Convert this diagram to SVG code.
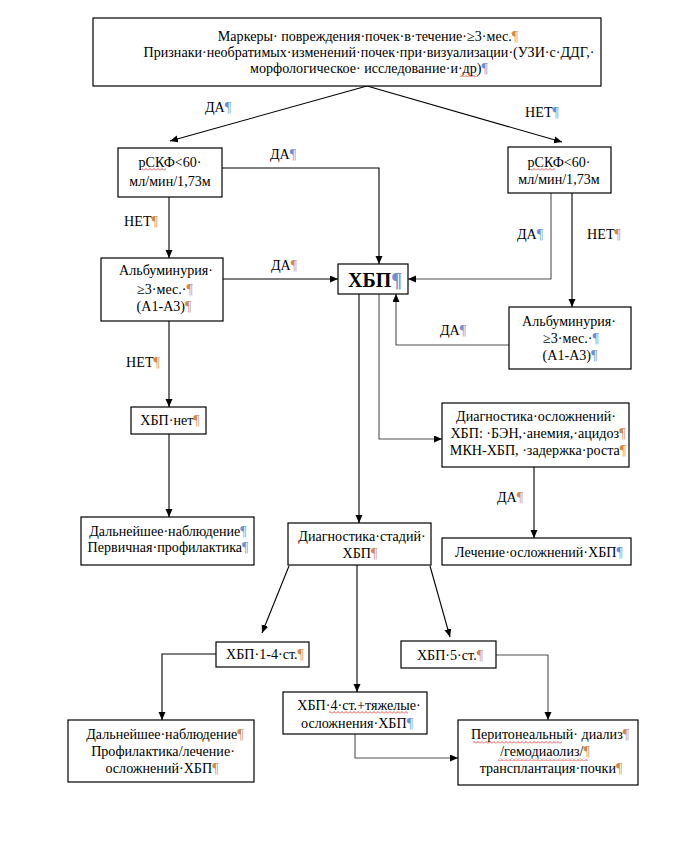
<svg xmlns="http://www.w3.org/2000/svg" width="689" height="857" viewBox="0 0 689 857">
<style>
  .box{fill:#fff;stroke:#000;stroke-width:1.2}
  .t{font-family:"Liberation Serif","Times New Roman","DejaVu Serif",serif;font-size:14.1px;fill:#000;text-anchor:middle}
  .big{font-size:20px;font-weight:bold}
  .pb{fill:#6f8fd0}
  .po{fill:#d08a50}
  .c{fill:none;stroke:#000;stroke-width:1.1}
  .g{stroke:#505050}
  .wv{fill:url(#wavy)}
</style>
<defs>
  <marker id="ah" markerUnits="userSpaceOnUse" markerWidth="8" markerHeight="8" refX="8" refY="3.5" orient="auto">
    <path d="M0,0 L8,3.5 L0,7 z" fill="#000"/>
  </marker>
  <pattern id="wavy" width="4" height="3" patternUnits="userSpaceOnUse">
    <polyline points="0,2.5 2,0.5 4,2.5" fill="none" stroke="#e02020" stroke-width="0.8"/>
  </pattern>
</defs>
<rect width="689" height="857" fill="#fff"/>

<g id="connectors">
  <line class="c" x1="367" y1="86" x2="170" y2="141" marker-end="url(#ah)"/>
  <line class="c" x1="367" y1="86" x2="562" y2="142" marker-end="url(#ah)"/>
  <polyline class="c" points="222,168 379,168 379,264" marker-end="url(#ah)"/>
  <line class="c" x1="169" y1="197" x2="169" y2="258" marker-end="url(#ah)"/>
  <line class="c" x1="223" y1="279" x2="338" y2="279" marker-end="url(#ah)"/>
  <polyline class="c g" points="551,193 551,279 408,279" marker-end="url(#ah)"/>
  <line class="c" x1="572" y1="193" x2="572" y2="307" marker-end="url(#ah)"/>
  <polyline class="c g" points="509,345 396,345 396,294" marker-end="url(#ah)"/>
  <line class="c" x1="169" y1="321" x2="169" y2="407" marker-end="url(#ah)"/>
  <line class="c" x1="169" y1="434" x2="169" y2="517" marker-end="url(#ah)"/>
  <line class="c" x1="359" y1="294" x2="359" y2="523" marker-end="url(#ah)"/>
  <polyline class="c g" points="379,294 379,439 442,439" marker-end="url(#ah)"/>
  <line class="c" x1="534" y1="467" x2="534" y2="538" marker-end="url(#ah)"/>
  <line class="c" x1="289" y1="566" x2="262" y2="633" marker-end="url(#ah)"/>
  <line class="c" x1="357" y1="565" x2="357" y2="692" marker-end="url(#ah)"/>
  <line class="c" x1="430" y1="566" x2="450" y2="637" marker-end="url(#ah)"/>
  <polyline class="c" points="216,654 162,654 162,720" marker-end="url(#ah)"/>
  <polyline class="c g" points="496,655 548,655 548,720" marker-end="url(#ah)"/>
  <polyline class="c g" points="355,734 355,758 458,758" marker-end="url(#ah)"/>
</g>

<g id="labels">
  <text class="t" x="218" y="112">ДА<tspan class="pb">¶</tspan></text>
  <text class="t" x="542" y="117">НЕТ<tspan class="pb">¶</tspan></text>
  <text class="t" x="283" y="159">ДА<tspan class="pb">¶</tspan></text>
  <text class="t" x="141" y="226">НЕТ<tspan class="po">¶</tspan></text>
  <text class="t" x="284" y="270">ДА<tspan class="po">¶</tspan></text>
  <text class="t" x="530" y="239">ДА<tspan class="pb">¶</tspan></text>
  <text class="t" x="604" y="239">НЕТ<tspan class="po">¶</tspan></text>
  <text class="t" x="453" y="335">ДА<tspan class="pb">¶</tspan></text>
  <text class="t" x="143" y="367">НЕТ<tspan class="po">¶</tspan></text>
  <text class="t" x="510" y="502">ДА<tspan class="po">¶</tspan></text>
</g>

<g id="n-markers">
  <rect class="box" x="93" y="18" width="508" height="68"/>
  <text class="t" x="368" y="41">Маркеры· повреждения·почек·в·течение·≥3·мес.<tspan class="po">¶</tspan></text>
  <text class="t" x="369" y="57">Признаки·необратимых·изменений·почек·при·визуализации·(УЗИ·с·ДДГ,·</text>
  <text class="t" x="369" y="73">морфологическое· исследование·и·др)<tspan class="pb">¶</tspan></text>
  <rect class="wv" x="460" y="74" width="18" height="3"/>
</g>

<g id="n-gfr-left">
  <rect class="box" x="118" y="148" width="104" height="49"/>
  <text class="t" x="170" y="167">рСКФ&lt;60·</text>
  <text class="t" x="170" y="186">мл/мин/1,73м</text>
  <rect class="wv" x="142" y="168" width="24" height="3"/>
</g>

<g id="n-gfr-right">
  <rect class="box" x="508" y="147" width="103" height="46"/>
  <text class="t" x="559" y="167">рСКФ&lt;60·</text>
  <text class="t" x="559" y="184">мл/мин/1,73м</text>
  <rect class="wv" x="531" y="168" width="24" height="3"/>
</g>

<g id="n-alb-left">
  <rect class="box" x="101" y="258" width="122" height="63"/>
  <text class="t" x="166" y="275">Альбуминурия·</text>
  <text class="t" x="165" y="294">≥3·мес.·<tspan class="po">¶</tspan></text>
  <text class="t" x="164" y="311">(А1-А3)<tspan class="po">¶</tspan></text>
</g>

<g id="n-ckd">
  <rect class="box" x="338" y="264" width="70" height="30"/>
  <text class="t big" x="375" y="287">ХБП<tspan class="pb">¶</tspan></text>
</g>

<g id="n-alb-right">
  <rect class="box" x="509" y="307" width="122" height="62"/>
  <text class="t" x="569" y="326">Альбуминурия·</text>
  <text class="t" x="571" y="343">≥3·мес.·<tspan class="pb">¶</tspan></text>
  <text class="t" x="570" y="360">(А1-А3)<tspan class="pb">¶</tspan></text>
</g>

<g id="n-no-ckd">
  <rect class="box" x="131" y="407" width="75" height="27"/>
  <text class="t" x="170" y="425">ХБП·нет<tspan class="po">¶</tspan></text>
</g>

<g id="n-compl-diag">
  <rect class="box" x="442" y="403" width="187" height="64"/>
  <text class="t" x="536" y="421">Диагностика·осложнений·</text>
  <text class="t" x="538" y="438">ХБП: ·БЭН,·анемия,·ацидоз<tspan class="po">¶</tspan></text>
  <text class="t" x="538" y="455">МКН-ХБП, ·задержка·роста<tspan class="po">¶</tspan></text>
</g>

<g id="n-observe1">
  <rect class="box" x="81" y="517" width="173" height="48"/>
  <text class="t" x="168" y="536">Дальнейшее·наблюдение<tspan class="pb">¶</tspan></text>
  <text class="t" x="168" y="552">Первичная·профилактика<tspan class="pb">¶</tspan></text>
</g>

<g id="n-stage-diag">
  <rect class="box" x="288" y="523" width="143" height="42"/>
  <text class="t" x="362" y="541">Диагностика·стадий·</text>
  <text class="t" x="360" y="558">ХБП<tspan class="po">¶</tspan></text>
</g>

<g id="n-compl-treat">
  <rect class="box" x="442" y="538" width="189" height="27"/>
  <text class="t" x="539" y="557">Лечение·осложнений·ХБП<tspan class="pb">¶</tspan></text>
</g>

<g id="n-ckd14">
  <rect class="box" x="216" y="642" width="93" height="25"/>
  <text class="t" x="265" y="659">ХБП·1-4·ст.<tspan class="po">¶</tspan></text>
</g>

<g id="n-ckd5">
  <rect class="box" x="401" y="641" width="95" height="27"/>
  <text class="t" x="450" y="660">ХБП·5·ст.<tspan class="po">¶</tspan></text>
</g>

<g id="n-ckd4">
  <rect class="box" x="283" y="692" width="144" height="42"/>
  <text class="t" x="359" y="710">ХБП·4·ст.+тяжелые·</text>
  <text class="t" x="357" y="728">осложнения·ХБП<tspan class="pb">¶</tspan></text>
  <rect class="wv" x="329" y="711" width="79" height="3"/>
</g>

<g id="n-observe2">
  <rect class="box" x="68" y="720" width="186" height="62"/>
  <text class="t" x="165" y="739">Дальнейшее·наблюдение<tspan class="po">¶</tspan></text>
  <text class="t" x="163" y="756">Профилактика/лечение·</text>
  <text class="t" x="162" y="773">осложнений·ХБП<tspan class="po">¶</tspan></text>
</g>

<g id="n-rrt">
  <rect class="box" x="458" y="720" width="180" height="65"/>
  <text class="t" x="550" y="739">Перитонеальный· диализ<tspan class="po">¶</tspan></text>
  <text class="t" x="545" y="756">/гемодиаолиз/<tspan class="po">¶</tspan></text>
  <text class="t" x="551" y="773">трансплантация·почки<tspan class="po">¶</tspan></text>
  <rect class="wv" x="473" y="741" width="89" height="3"/>
  <rect class="wv" x="498" y="758" width="90" height="3"/>
</g>
</svg>
